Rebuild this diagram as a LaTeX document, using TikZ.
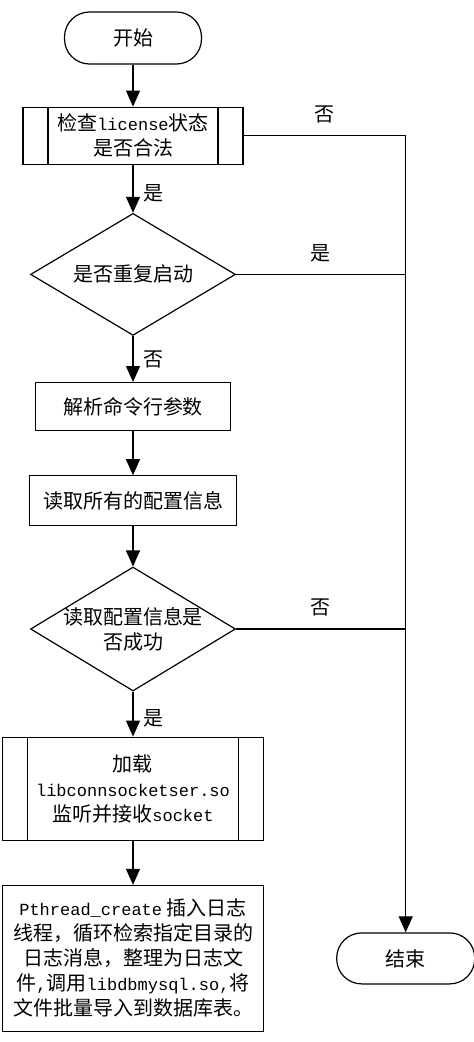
\documentclass[tikz,border=0pt]{standalone}
\usepackage{fontspec}
\setmainfont{Noto Sans CJK SC}
\newfontfamily\monofnt{Liberation Mono}[Scale=0.85]
\newcommand{\eng}[1]{{\monofnt #1}}
\usetikzlibrary{shapes.geometric, arrows.meta, positioning, calc}
\tikzset{
    term/.style = {draw, rectangle, rounded corners=25pt, minimum width=137pt, minimum height=52pt, align=center, fill=white},
    procbox/.style = {draw, rectangle, minimum height=48pt, align=center, fill=white},
    subproc/.style = {procbox, path picture={
        \draw[line width=1.2pt] ([xshift=25pt]path picture bounding box.north west) -- ([xshift=25pt]path picture bounding box.south west);
        \draw[line width=1.2pt] ([xshift=-25pt]path picture bounding box.north east) -- ([xshift=-25pt]path picture bounding box.south east);}},
    decision/.style = {draw, diamond, aspect=1.68, minimum width=205pt, minimum height=122pt, inner sep=-4pt, align=center, fill=white},
    arrow/.style = {-{Triangle[length=16pt, width=14pt]}},
    wire/.style = {-},
    lbl/.style = {inner sep=0pt}
}

\begin{document}
\begin{tikzpicture}[x=1pt, y=1pt, line width=1.2pt, font=\fontsize{20}{25}\selectfont]
    \useasboundingbox (0,0) rectangle (474,-1042);
    \node[term] (start) at (133,-38) {开始};
    \node[subproc, below=42pt of start, minimum width=220pt, minimum height=57pt] (check) {检查\eng{license}状态\\是否合法};
    \node[decision, below=48pt of check] (dup) {是否重复启动};
    \node[procbox, below=46pt of dup, minimum width=195pt] (parse) {解析命令行参数};
    \node[procbox, below=44pt of parse, minimum width=207pt, minimum height=50pt] (readall) {读取所有的配置信息};
    \node[decision, below=40pt of readall, minimum height=124pt] (cfg) {读取配置信息是\\否成功};
    \node[subproc, below=45pt of cfg, minimum width=261pt, minimum height=103pt] (load) {加载\\\eng{libconnsocketser.so}\\监听并接收\eng{socket}};
    \node[procbox, below=44pt of load, minimum width=261pt, minimum height=146pt] (pthr) {\eng{Pthread\_create} 插入日志\\线程，循环检索指定目录的\\日志消息，整理为日志文\\件\eng{,}调用\eng{libdbmysql.so,}将\\文件批量导入到数据库表。};
    \node[term, right=72pt of pthr, minimum width=138pt, minimum height=51pt] (fin) {结束};

    \draw[arrow] (start) -- (check);
    \draw[arrow] (check) -- node[pos=0.6, right=10pt, lbl] {是} (dup);
    \draw[arrow] (dup) -- node[pos=0.5, right=10pt, lbl] {否} (parse);
    \draw[arrow] (parse) -- (readall);
    \draw[arrow] (readall) -- (cfg);
    \draw[arrow] (cfg) -- node[pos=0.6, right=10pt, lbl] {是} (load);
    \draw[arrow] (load) -- (pthr);

    \draw[arrow] (check.east) -| node[pos=0.25, above=12pt, lbl] {否} (fin.north);
    \draw[wire] (dup.east) -- node[midway, above=12pt, lbl] {是} (dup.east -| fin);
    \draw[wire] (cfg.east) -- node[midway, above=12pt, lbl] {否} (cfg.east -| fin);
\end{tikzpicture}
\end{document}
